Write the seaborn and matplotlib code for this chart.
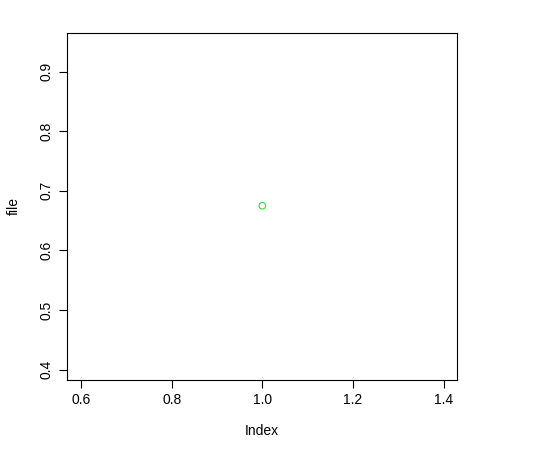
import matplotlib
matplotlib.use('Agg')
import matplotlib.pyplot as plt
import seaborn as sns

sns.set_style('white')
plt.rcParams['font.family'] = ['Liberation Sans', 'DejaVu Sans']
plt.rcParams['text.color'] = 'black'
plt.rcParams['axes.labelcolor'] = 'black'
plt.rcParams['xtick.color'] = 'black'
plt.rcParams['ytick.color'] = 'black'

# data
index = [1]
file_vals = [0.675]

fig = plt.figure(figsize=(5.4, 4.55), dpi=100)
ax = fig.add_axes([0.124, 0.165, 0.722, 0.763])

sns.scatterplot(x=index, y=file_vals, ax=ax, marker='o', s=22,
                facecolors='none', edgecolor='#33dd33', linewidth=0.8)

ax.set_xlim(0.569, 1.429)
ax.set_ylim(0.383, 0.965)
ax.set_xticks([0.6, 0.8, 1.0, 1.2, 1.4])
ax.set_yticks([0.4, 0.5, 0.6, 0.7, 0.8, 0.9])
ax.set_xticklabels(['0.6', '0.8', '1.0', '1.2', '1.4'])
ax.set_yticklabels(['0.4', '0.5', '0.6', '0.7', '0.8', '0.9'], rotation=90, va='center')
ax.tick_params(direction='out', length=6, width=0.8, labelsize=10, color='black',
               labelcolor='black', bottom=True, left=True)
for sp in ax.spines.values():
    sp.set_color('black')
    sp.set_linewidth(0.8)
ax.set_xlabel('Index', fontsize=10, labelpad=12, color='black')
ax.set_ylabel('file', fontsize=10, labelpad=14, color='black')

fig.savefig('out.png', dpi=100)
